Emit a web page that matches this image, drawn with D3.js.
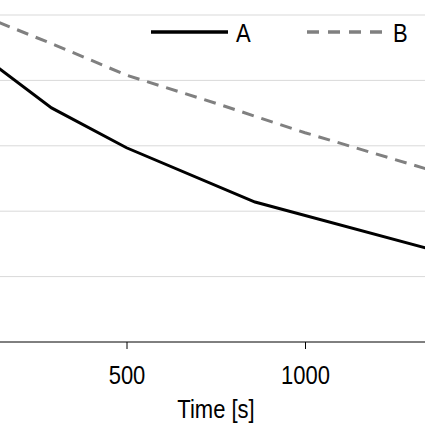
<!DOCTYPE html>
<meta charset="utf-8">
<html>
<script src="https://d3js.org/d3.v7.min.js"></script>
<style>
    body { margin: 0; background: white; }
    text { font-family: "Liberation Sans", Arial, sans-serif; fill: #000; }
</style>
<body>
<div id="my_dataviz"></div>
<script>

    // series (y axis has no labels, so arbitrary units 0-5)
    const timesA = [100, 290, 500, 860, 1350];
    const valuesA = [4.36, 3.58, 2.97, 2.14, 1.42];
    const timesB = [100, 300, 500, 750, 1000, 1350];
    const valuesB = [4.98, 4.54, 4.08, 3.65, 3.20, 2.63];
    const xTicks = [500, 1000];
    const gridValues = [1, 2, 3, 4, 5];
    const seriesNames = ["A", "B"];

    const width = 425, height = 425;
    const stretch = "scale(1,1.15)";   // the text in the picture is a bit tall

    const svg = d3.select("#my_dataviz")
      .append("svg")
        .attr("width", width)
        .attr("height", height);

    // the plot is cropped on the left, so x(0) falls outside the picture
    const x = d3.scaleLinear()
      .domain([500, 1000])
      .range([126.5, 305]);
    const y = d3.scaleLinear()
      .domain([0, 5])
      .range([342, 15]);

    svg.append("defs").append("clipPath")
        .attr("id", "clip")
      .append("rect")
        .attr("x", 0).attr("y", 0)
        .attr("width", width).attr("height", 342);

    // gridlines
    svg.selectAll("grid")
      .data(gridValues)
      .join("line")
        .attr("x1", 0).attr("x2", width)
        .attr("y1", d => y(d)).attr("y2", d => y(d))
        .attr("stroke", "#d9d9d9")
        .attr("stroke-width", 1);

    // x axis
    const xAxis = svg.append("g")
        .attr("transform", `translate(0, ${y(0)})`)
        .call(d3.axisBottom(x).tickValues(xTicks).tickFormat(d3.format("d")).tickSize(7).tickSizeOuter(0));
    xAxis.select(".domain").remove();
    xAxis.append("line")
        .attr("x1", 0).attr("x2", width)
        .attr("stroke", "#000").attr("stroke-width", 1);
    xAxis.selectAll(".tick line").attr("stroke", "#000");
    xAxis.selectAll("text")
        .attr("y", 0).attr("dy", 0)
        .attr("transform", "translate(0,42) " + stretch)
        .attr("font-size", "22px")
        .attr("font-family", "Liberation Sans, Arial, sans-serif")
        .attr("fill", "#000");

    svg.append("text")
        .attr("transform", "translate(216,418) " + stretch)
        .attr("text-anchor", "middle")
        .attr("font-size", "22px")
        .text("Time [s]");

    const line = d3.line()
      .x(d => x(d[0]))
      .y(d => y(d[1]));

    const plot = svg.append("g").attr("clip-path", "url(#clip)");

    plot.append("path")
        .datum(d3.zip(timesB, valuesB))
        .attr("fill", "none")
        .attr("stroke", "#808080")
        .attr("stroke-width", 3)
        .attr("stroke-dasharray", "12,8")
        .attr("stroke-dashoffset", 4)
        .attr("d", line);

    plot.append("path")
        .datum(d3.zip(timesA, valuesA))
        .attr("fill", "none")
        .attr("stroke", "#000")
        .attr("stroke-width", 3)
        .attr("d", line);

    // legend
    const legend = svg.append("g");
    legend.append("line")
        .attr("x1", 151).attr("x2", 228)
        .attr("y1", 32).attr("y2", 32)
        .attr("stroke", "#000").attr("stroke-width", 3.5);
    legend.append("text")
        .attr("transform", "translate(236,42) " + stretch)
        .attr("font-size", "22px")
        .text(seriesNames[0]);
    legend.append("line")
        .attr("x1", 307).attr("x2", 382)
        .attr("y1", 32).attr("y2", 32)
        .attr("stroke", "#808080").attr("stroke-width", 3.5)
        .attr("stroke-dasharray", "12,9");
    legend.append("text")
        .attr("transform", "translate(393,42) " + stretch)
        .attr("font-size", "22px")
        .text(seriesNames[1]);

</script>
</body>
</html>
